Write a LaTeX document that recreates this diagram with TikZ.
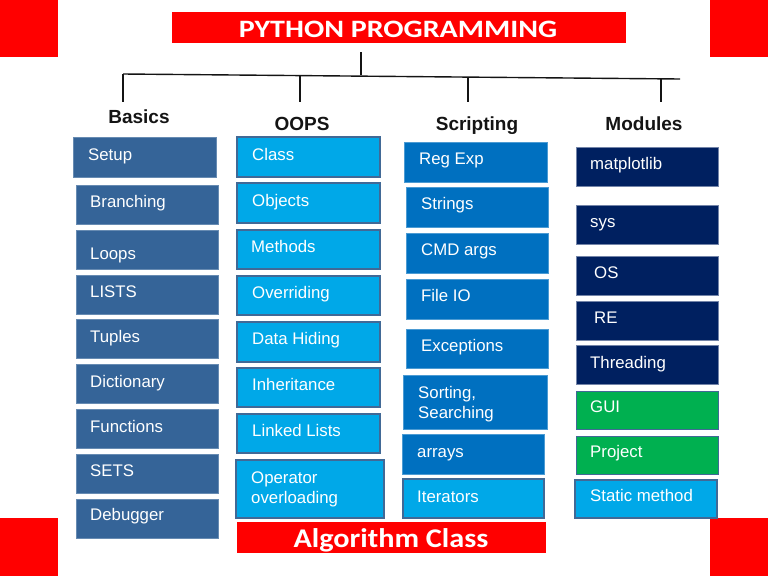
\documentclass[tikz,border=0pt]{standalone}
\usepackage{graphicx}
\usepackage{fontspec}
\setmainfont{Liberation Sans}
\newfontfamily\bannerfont{Carlito}

\definecolor{basicC}{RGB}{53,100,152}
\definecolor{oopsC}{RGB}{0,168,232}
\definecolor{scrC}{RGB}{0,112,192}
\definecolor{modC}{RGB}{0,32,96}
\definecolor{guiC}{RGB}{0,176,80}
\definecolor{edgeC}{RGB}{65,105,150}
\definecolor{headC}{RGB}{20,20,20}

% box with its label: name, style, x1, y1, x2, y2, label x, label baseline (last line), text
\newcommand\topicbox[9]{%
  \node[#2, minimum width={(#5-#3)*1pt}, minimum height={(#6-#4)*1pt}]
    (#1) at ({(#3+#5)/2},{(#4+#6)/2}) {};
  \node[lbl] (#1-t) at (#7,#8) {#9};}

\begin{document}
\begin{tikzpicture}[x=1pt,y=-1pt,
  box/.style={rectangle, inner sep=0pt, outer sep=0pt, line width=0.9pt},
  basic/.style={box, fill=basicC, draw=basicC!75!white},
  oops/.style={box, fill=oopsC, draw=edgeC, line width=1.3pt},
  scr/.style={box, fill=scrC, draw=scrC!70!white},
  mods/.style={box, fill=modC, draw=modC!55!white},
  gui/.style={box, fill=guiC, draw=edgeC},
  lbl/.style={inner sep=0pt, text=white, anchor=base west, align=left,
    font=\fontsize{16.8}{20}\selectfont},
  head/.style={inner sep=0pt, anchor=base, text=headC,
    font=\fontsize{19}{22}\selectfont\bfseries},
  banner/.style={rectangle, fill=red, inner sep=0pt, outer sep=0pt},
  bannertext/.style={inner sep=0pt, anchor=base, text=white},
  tree/.style={line width=1.4pt, draw=headC}
]
\useasboundingbox (0,0) rectangle (768,576);

% red corner blocks
\fill[red] (0,0) rectangle (58,57);
\fill[red] (710,0) rectangle (768,57);
\fill[red] (0,518) rectangle (58,576);
\fill[red] (710,518) rectangle (768,576);

% title banner
\node[banner, minimum width=454pt, minimum height=31pt] (title) at (399,27.5) {};
\node[bannertext, font=\bannerfont\fontsize{25}{28}\selectfont\bfseries] (title-t) at (398,37)
  {\scalebox{1.2}[1]{PYTHON PROGRAMMING}};

% branch headings
\node[head] (basics) at (139,123) {Basics};
\node[head] (oops) at (302,130) {OOPS};
\node[head] (scripting) at (477,130) {Scripting};
\node[head] (modules) at (644,130) {Modules};

% tree connectors
\coordinate (root) at (361,52);
\coordinate (hub) at (361,75);
\coordinate (barL) at (123,74);
\coordinate (barR) at (680,79);
\coordinate (bO) at (300,76);
\coordinate (bS) at (468,78);
\coordinate (bM) at (661,78);
\coordinate (dB) at (123,102);
\coordinate (dO) at (300,102);
\coordinate (dS) at (468,102);
\coordinate (dM) at (661,102);
\draw[tree] (root) -- (hub);
\draw[tree] (barL) -- (barR);
\draw[tree] (barL) -- (dB);
\draw[tree] (bO) -- (dO);
\draw[tree] (bS) -- (dS);
\draw[tree] (bM) -- (dM);

% Basics
\topicbox{setup}{basic}{73}{137}{216}{177}{88}{160}{Setup}
\topicbox{branching}{basic}{76}{185}{218}{224}{90}{207}{Branching}
\topicbox{loops}{basic}{76}{230}{218}{269}{90}{259}{Loops}
\topicbox{lists}{basic}{76}{275}{218}{314}{90}{297}{LISTS}
\topicbox{tuples}{basic}{76}{319}{218}{358}{90}{342}{Tuples}
\topicbox{dict}{basic}{76}{364}{218}{403}{90}{387}{Dictionary}
\topicbox{functions}{basic}{76}{409}{218}{448}{90}{432}{Functions}
\topicbox{sets}{basic}{76}{454}{218}{493}{90}{476}{SETS}
\topicbox{debugger}{basic}{76}{499}{218}{538}{90}{520}{Debugger}

% OOPS
\topicbox{class}{oops}{237}{137}{380}{177}{252}{160}{Class}
\topicbox{objects}{oops}{237}{183}{380}{223}{252}{206}{Objects}
\topicbox{methods}{oops}{237}{230}{380}{269}{251}{252}{Methods}
\topicbox{overriding}{oops}{237}{276}{380}{315}{252}{298}{Overriding}
\topicbox{hiding}{oops}{237}{322}{380}{362}{252}{344}{Data Hiding}
\topicbox{inherit}{oops}{237}{368}{380}{407}{252}{390}{Inheritance}
\topicbox{linked}{oops}{237}{414}{380}{453}{252}{436}{Linked Lists}
\topicbox{overload}{oops}{236}{460}{384}{518}{251}{503}{Operator\\overloading}

% Scripting
\topicbox{regexp}{scr}{404}{142}{547}{182}{419}{164}{Reg Exp}
\topicbox{strings}{scr}{406}{187}{548}{227}{421}{209}{Strings}
\topicbox{cmdargs}{scr}{406}{233}{548}{273}{421}{255}{CMD args}
\topicbox{fileio}{scr}{406}{279}{548}{319}{421}{301}{File IO}
\topicbox{except}{scr}{406}{329}{548}{368}{421}{351}{Exceptions}
\topicbox{sorting}{scr}{403}{375}{547}{429}{418}{418}{Sorting,\\Searching}
\topicbox{arrays}{scr}{402}{434}{544}{474}{417}{457}{arrays}
\topicbox{iter}{oops}{403}{479}{544}{518}{417}{502}{Iterators}

% Modules
\topicbox{matplotlib}{mods}{576}{147}{718}{186}{590}{169}{matplotlib}
\topicbox{sys}{mods}{576}{205}{718}{244}{590}{227}{sys}
\topicbox{os}{mods}{576}{256}{718}{295}{594}{278}{OS}
\topicbox{re}{mods}{576}{301}{718}{340}{594}{323}{RE}
\topicbox{threading}{mods}{576}{345}{718}{384}{590}{368}{Threading}
\topicbox{gui}{gui}{576}{391}{718}{429}{590}{412}{GUI}
\topicbox{project}{gui}{576}{436}{718}{474}{590}{457}{Project}
\topicbox{static}{oops}{575}{480}{717}{518}{590}{501}{Static method}

% algorithm banner
\node[banner, minimum width=309pt, minimum height=31pt] (algo) at (391.5,537.5) {};
\node[bannertext, font=\bannerfont\fontsize{27}{30}\selectfont\bfseries] (algo-t) at (391,547)
  {\scalebox{1.12}[1]{Algorithm Class}};
\end{tikzpicture}
\end{document}
